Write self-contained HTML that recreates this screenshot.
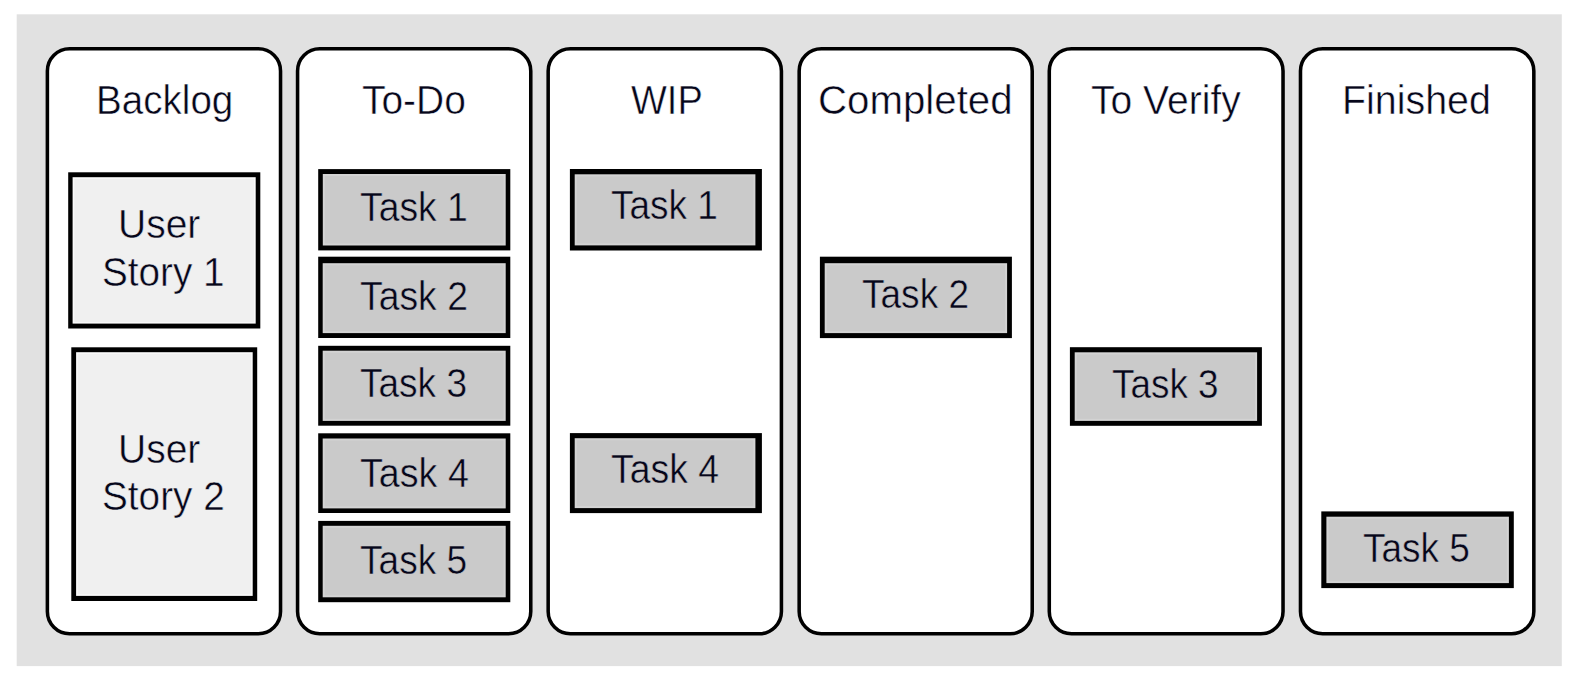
<!DOCTYPE html>
<html lang="en"><head><meta charset="utf-8"><title>Kanban Board</title>
<style>
html,body{margin:0;padding:0;background:#fff;}
body{width:1575px;height:683px;position:relative;overflow:hidden;font-family:"Liberation Sans",sans-serif;color:#06061a;}
svg{position:absolute;left:0;top:0;display:block;}
.tx{position:absolute;font-size:41.0px;line-height:1;white-space:nowrap;transform-origin:0 0;-webkit-text-stroke:0.5px #fff;}
.st{-webkit-text-stroke-color:#f0f0f0;}
.tk{-webkit-text-stroke-color:#cacaca;}
</style></head><body>
<svg width="1575" height="683" viewBox="0 0 1575 683">
<g>
<rect x="16.7" y="14.3" width="1545.10" height="651.80" fill="#e1e1e1"/>
<rect x="47.38" y="48.67" width="233.15" height="585.15" rx="22.23" ry="22.23" fill="#fff" stroke="#000" stroke-width="3.55"/>
<rect x="297.57" y="48.67" width="233.20" height="585.15" rx="22.23" ry="22.23" fill="#fff" stroke="#000" stroke-width="3.55"/>
<rect x="548.17" y="48.67" width="233.25" height="585.15" rx="22.23" ry="22.23" fill="#fff" stroke="#000" stroke-width="3.55"/>
<rect x="799.17" y="48.67" width="233.05" height="585.15" rx="22.23" ry="22.23" fill="#fff" stroke="#000" stroke-width="3.55"/>
<rect x="1049.28" y="48.67" width="233.75" height="585.15" rx="22.23" ry="22.23" fill="#fff" stroke="#000" stroke-width="3.55"/>
<rect x="1300.48" y="48.67" width="233.35" height="585.15" rx="22.23" ry="22.23" fill="#fff" stroke="#000" stroke-width="3.55"/>
<rect x="68.2" y="172.3" width="192.10" height="156.20" fill="#000"/>
<rect x="72.6" y="177.2" width="183.10" height="146.40" fill="#fafafa"/>
<rect x="74.20" y="178.80" width="179.90" height="143.20" fill="#f0f0f0"/>
<rect x="71.3" y="347.3" width="185.90" height="253.70" fill="#000"/>
<rect x="76.1" y="352.2" width="176.60" height="243.70" fill="#fafafa"/>
<rect x="77.70" y="353.80" width="173.40" height="240.50" fill="#f0f0f0"/>
<rect x="318.2" y="169.1" width="192.10" height="81.30" fill="#000"/>
<rect x="322.8" y="174.0" width="182.90" height="71.50" fill="#d3d3d3"/>
<rect x="324.80" y="176.00" width="178.90" height="67.50" fill="#cacaca"/>
<rect x="318.2" y="256.7" width="192.10" height="81.30" fill="#000"/>
<rect x="322.7" y="263.2" width="183.00" height="69.90" fill="#d3d3d3"/>
<rect x="324.70" y="265.20" width="179.00" height="65.90" fill="#cacaca"/>
<rect x="318.2" y="345.8" width="192.10" height="79.90" fill="#000"/>
<rect x="322.7" y="350.7" width="183.00" height="70.20" fill="#d3d3d3"/>
<rect x="324.70" y="352.70" width="179.00" height="66.20" fill="#cacaca"/>
<rect x="318.2" y="433.3" width="192.10" height="79.70" fill="#000"/>
<rect x="322.7" y="438.5" width="183.00" height="69.90" fill="#d3d3d3"/>
<rect x="324.70" y="440.50" width="179.00" height="65.90" fill="#cacaca"/>
<rect x="318.2" y="520.9" width="192.10" height="81.30" fill="#000"/>
<rect x="322.7" y="525.8" width="183.00" height="71.50" fill="#d3d3d3"/>
<rect x="324.70" y="527.80" width="179.00" height="67.50" fill="#cacaca"/>
<rect x="569.9" y="169.0" width="192.00" height="81.50" fill="#000"/>
<rect x="574.7" y="174.3" width="180.70" height="71.10" fill="#d3d3d3"/>
<rect x="576.70" y="176.30" width="176.70" height="67.10" fill="#cacaca"/>
<rect x="569.9" y="433.1" width="192.00" height="80.00" fill="#000"/>
<rect x="574.7" y="438.2" width="180.70" height="69.90" fill="#d3d3d3"/>
<rect x="576.70" y="440.20" width="176.70" height="65.90" fill="#cacaca"/>
<rect x="819.9" y="256.7" width="192.00" height="81.40" fill="#000"/>
<rect x="824.7" y="263.2" width="182.40" height="69.90" fill="#d3d3d3"/>
<rect x="826.70" y="265.20" width="178.40" height="65.90" fill="#cacaca"/>
<rect x="1069.9" y="347.2" width="192.00" height="78.60" fill="#000"/>
<rect x="1074.7" y="352.3" width="182.40" height="68.60" fill="#d3d3d3"/>
<rect x="1076.70" y="354.30" width="178.40" height="64.60" fill="#cacaca"/>
<rect x="1321.3" y="511.4" width="192.50" height="76.70" fill="#000"/>
<rect x="1326.4" y="516.7" width="182.50" height="66.40" fill="#d3d3d3"/>
<rect x="1328.40" y="518.70" width="178.50" height="62.40" fill="#cacaca"/>
</g></svg>
<div class="tx" id="t0" style="left:96.37px;top:80.00px;transform:scaleX(0.9414)">Backlog</div>
<div class="tx" id="t1" style="left:362.39px;top:80.00px;transform:scaleX(0.9489)">To-Do</div>
<div class="tx" id="t2" style="left:630.61px;top:80.00px;transform:scaleX(0.9264)">WIP</div>
<div class="tx" id="t3" style="left:817.70px;top:80.00px;transform:scaleX(0.9815)">Completed</div>
<div class="tx" id="t4" style="left:1090.91px;top:80.00px;transform:scaleX(0.9526)">To Verify</div>
<div class="tx" id="t5" style="left:1341.62px;top:80.00px;transform:scaleX(0.9606)">Finished</div>
<div class="tx st" id="u1" style="left:117.61px;top:204.00px;transform:scaleX(0.9508)">User</div>
<div class="tx st" id="s1" style="left:102.14px;top:252.00px;transform:scaleX(0.9441)">Story 1</div>
<div class="tx st" id="u2" style="left:117.61px;top:429.00px;transform:scaleX(0.9508)">User</div>
<div class="tx st" id="s2" style="left:102.14px;top:476.00px;transform:scaleX(0.9446)">Story 2</div>
<div class="tx tk" id="ka1" style="left:360.26px;top:187.00px;transform:scaleX(0.9101)">Task 1</div>
<div class="tx tk" id="ka2" style="left:360.26px;top:276.00px;transform:scaleX(0.9105)">Task 2</div>
<div class="tx tk" id="ka3" style="left:360.27px;top:363.00px;transform:scaleX(0.9031)">Task 3</div>
<div class="tx tk" id="ka4" style="left:360.23px;top:453.00px;transform:scaleX(0.9187)">Task 4</div>
<div class="tx tk" id="ka5" style="left:360.27px;top:540.00px;transform:scaleX(0.9038)">Task 5</div>
<div class="tx tk" id="kw1" style="left:611.33px;top:185.00px;transform:scaleX(0.9025)">Task 1</div>
<div class="tx tk" id="kw4" style="left:611.31px;top:449.00px;transform:scaleX(0.9118)">Task 4</div>
<div class="tx tk" id="kc2" style="left:861.92px;top:274.00px;transform:scaleX(0.9035)">Task 2</div>
<div class="tx tk" id="kv3" style="left:1112.06px;top:364.00px;transform:scaleX(0.9000)">Task 3</div>
<div class="tx tk" id="kf5" style="left:1363.28px;top:528.00px;transform:scaleX(0.9019)">Task 5</div>
</body></html>
